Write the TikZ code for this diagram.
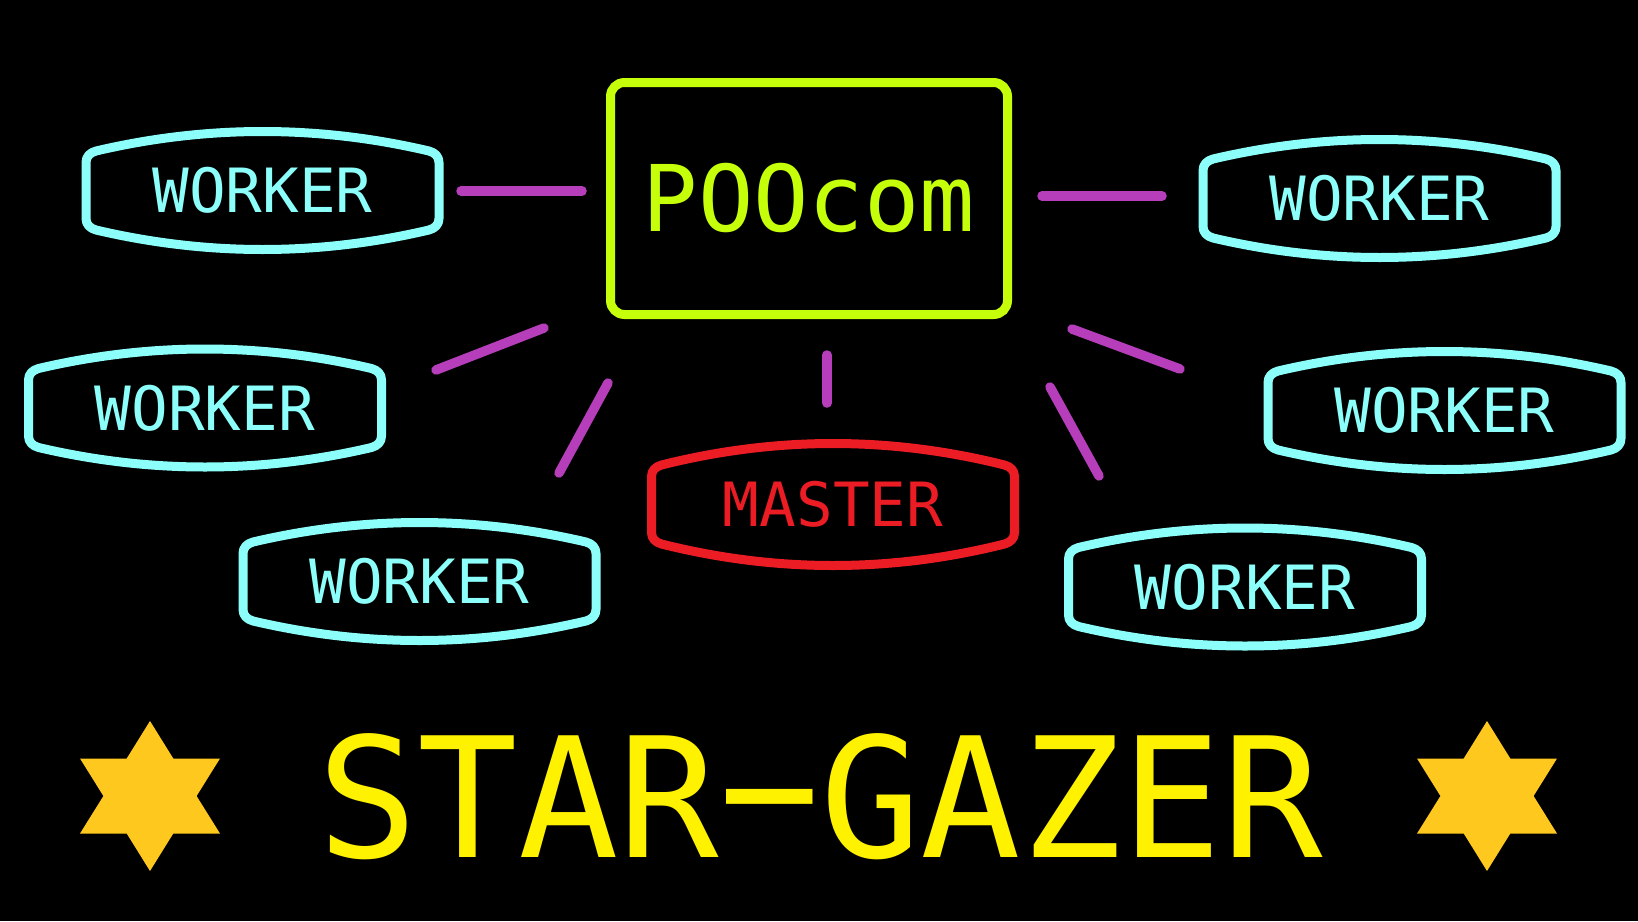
\documentclass[tikz,border=0pt]{standalone}
\usepackage{fontspec}
\setmonofont{DejaVu Sans Mono}
\definecolor{cyanc}{HTML}{8CFFFA}
\definecolor{limec}{HTML}{C6FF0A}
\definecolor{redc}{HTML}{EC1C24}
\definecolor{purc}{HTML}{B63EBB}
\definecolor{titlec}{HTML}{FFF200}
\definecolor{starc}{HTML}{FFC81E}
\tikzset{
  wtext/.style={text=cyanc, font=\fontsize{61}{61}\selectfont\ttfamily, inner sep=0pt},
  mtext/.style={text=redc, font=\fontsize{61}{61}\selectfont\ttfamily, inner sep=0pt},
  link/.style={purc, line width=9.5pt, line cap=round},
  barrel/.style={line width=9pt, line join=round},
  hexstar/.style={fill=starc},
}
\newcommand{\widedash}{\makebox[0.602em][c]{\sbox0{–}\raisebox{\dimexpr68pt-1.3\ht0\relax}{\scalebox{0.86}[1.3]{–}}}}
% #1 node, #2 half width, #3 half height (stroke centre), #4 colour
\newcommand{\barrelpath}[4]{%
  \draw[barrel, #4, shift={(#1.center)}]
    (-#2, 28) -- (-#2, -28)
    .. controls (-#2, -34) and ({-#2+4}, -37.8) .. ({-#2+10}, -39.5)
    .. controls ({(-#2+10)/3}, {-39.5-4/3*(#3-39.5)}) and ({(#2-10)/3}, {-39.5-4/3*(#3-39.5)}) .. ({#2-10}, -39.5)
    .. controls ({#2-4}, -37.8) and (#2, -34) .. (#2, -28)
    -- (#2, 28)
    .. controls (#2, 34) and ({#2-4}, 37.8) .. ({#2-10}, 39.5)
    .. controls ({(#2-10)/3}, {39.5+4/3*(#3-39.5)}) and ({(-#2+10)/3}, {39.5+4/3*(#3-39.5)}) .. ({-#2+10}, 39.5)
    .. controls ({-#2+4}, 37.8) and (-#2, 34) .. (-#2, 28) -- cycle;
}
\newcommand{\hexagram}[1]{%
  \fill[hexstar, shift={(#1)}]
    (0,-75) -- (23.3,-37.5) -- (70,-37.5) -- (46.6,0) -- (70,37.5) -- (23.3,37.5)
    -- (0,75) -- (-23.3,37.5) -- (-70,37.5) -- (-46.6,0) -- (-70,-37.5) -- (-23.3,-37.5) -- cycle;
}
\begin{document}
\begin{tikzpicture}[x=1pt,y=-1pt]
  \fill[black] (0,0) rectangle (1638,921);
  \useasboundingbox (0,0) rectangle (1638,921);

  % central box
  \node[draw=limec, line width=9pt, rounded corners=14pt, minimum width=397pt,
        minimum height=232pt, inner sep=0pt, text=limec,
        font=\fontsize{92}{92}\selectfont\ttfamily] (poo) at (809,198.5) {POOcom};

  % workers
  \node[wtext] (w1) at (262.5,190.5) {WORKER};
  \node[wtext] (w2) at (1379.5,198.5) {WORKER};
  \node[wtext] (w3) at (205,408) {WORKER};
  \node[wtext] (w4) at (1444.5,410.5) {WORKER};
  \node[wtext] (w5) at (419.5,581.5) {WORKER};
  \node[wtext] (w6) at (1245,587) {WORKER};
  \node[mtext] (master) at (833,504.5) {MASTER};

  \barrelpath{w1}{176.5}{59}{cyanc}
  \barrelpath{w2}{176.5}{59}{cyanc}
  \barrelpath{w3}{176.5}{59}{cyanc}
  \barrelpath{w4}{176.5}{59}{cyanc}
  \barrelpath{w5}{176.5}{59}{cyanc}
  \barrelpath{w6}{176.5}{59}{cyanc}
  \barrelpath{master}{181.5}{61}{redc}

  % connectors
  \coordinate (l1a) at (461,191);   \coordinate (l1b) at (582,191);
  \coordinate (l2a) at (1042,196);  \coordinate (l2b) at (1162,196);
  \coordinate (l3a) at (436,370);   \coordinate (l3b) at (544,328);
  \coordinate (l4a) at (559,473);   \coordinate (l4b) at (608,383);
  \coordinate (l5a) at (827,355);   \coordinate (l5b) at (827,403);
  \coordinate (l6a) at (1050,387);  \coordinate (l6b) at (1099,476);
  \coordinate (l7a) at (1072,329);  \coordinate (l7b) at (1180,369);
  \draw[link] (l1a) -- (l1b);
  \draw[link] (l2a) -- (l2b);
  \draw[link] (l3a) -- (l3b);
  \draw[link] (l4a) -- (l4b);
  \draw[link] (l5a) -- (l5b);
  \draw[link] (l6a) -- (l6b);
  \draw[link] (l7a) -- (l7b);

  % title
  \node[text=titlec, inner sep=0pt, anchor=base,
        font=\fontsize{167}{167}\selectfont\ttfamily] (title) at (820,857) {STAR\widedash GAZER};

  % stars
  \coordinate (s1) at (150,796);
  \coordinate (s2) at (1487,796);
  \hexagram{s1}
  \hexagram{s2}
\end{tikzpicture}
\end{document}
